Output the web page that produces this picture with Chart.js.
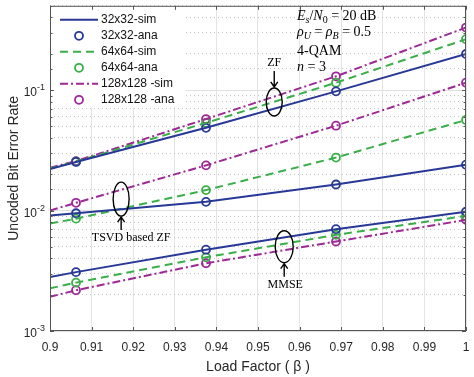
<!DOCTYPE html>
<html>
<head>
<meta charset="utf-8">
<script src="https://cdn.jsdelivr.net/npm/chart.js@4/dist/chart.umd.min.js"></script>
<style>
  body { margin: 0; background: #fff; }
  canvas { display: block; }
</style>
</head>
<body>
<canvas id="berChart" width="474" height="377"></canvas>
<script>
// load factor points (sim curves start at the left edge, markers at 29/32 .. 32/32)
const loadSim = [0.9, 0.90625, 0.9375, 0.96875, 1];
const loadAna = [0.90625, 0.9375, 0.96875, 1];

// ZF
const zf32Sim = [0.0221, 0.0253, 0.0486, 0.0975, 0.199];
const zf64Sim = [0.0223, 0.0255, 0.0534, 0.115, 0.264];
const zf128Sim = [0.0226, 0.0257, 0.0574, 0.130, 0.330];
const zf32Ana = [0.0253, 0.0486, 0.0975, 0.199];
const zf64Ana = [0.0255, 0.0534, 0.115, 0.264];
const zf128Ana = [0.0257, 0.0574, 0.130, 0.330];

// TSVD based ZF
const tsvd32Sim = [0.0091, 0.00949, 0.0118, 0.01644, 0.0240];
const tsvd64Sim = [0.0078, 0.00856, 0.01477, 0.0275, 0.0564];
const tsvd128Sim = [0.0100, 0.01159, 0.0237, 0.0506, 0.115];
const tsvd32Ana = [0.00949, 0.0118, 0.01644, 0.0240];
const tsvd64Ana = [0.00856, 0.01477, 0.0275, 0.0564];
const tsvd128Ana = [0.01159, 0.0237, 0.0506, 0.115];

// MMSE
const mmse32Sim = [0.0028, 0.00308, 0.00473, 0.0070, 0.00977];
const mmse64Sim = [0.00226, 0.00252, 0.00409, 0.00628, 0.00902];
const mmse128Sim = [0.00192, 0.00218, 0.00365, 0.00553, 0.00836];
const mmse32Ana = [0.00308, 0.00473, 0.0070, 0.00977];
const mmse64Ana = [0.00252, 0.00409, 0.00628, 0.00902];
const mmse128Ana = [0.00218, 0.00365, 0.00553, 0.00836];

const xTicks = [0.9, 0.91, 0.92, 0.93, 0.94, 0.95, 0.96, 0.97, 0.98, 0.99, 1];
const yDecades = [-3, -2, -1];

const legendLabels = ['32x32-sim', '32x32-ana', '64x64-sim', '64x64-ana', '128x128 -sim', '128x128 -ana'];

const BLUE = 'rgb(40,56,150)';
const GREEN = 'rgb(58,174,72)';
const PURPLE = 'rgb(158,40,150)';
const DASH = [8, 5];
const DASHDOT = [8, 3, 2, 3];

const SANS = "'Liberation Sans', Arial, Helvetica, sans-serif";
const SERIF = "'Liberation Serif', 'Times New Roman', serif";

function pts(xs, ys) {
  return xs.map((x, i) => ({ x: x, y: ys[i] }));
}

function simSet(label, ys, color, dash) {
  return {
    label: label,
    data: pts(loadSim, ys),
    borderColor: color,
    borderWidth: 2,
    borderDash: dash,
    pointRadius: 0,
    fill: false,
    tension: 0
  };
}

function anaSet(label, ys, color) {
  return {
    label: label,
    data: pts(loadAna, ys),
    showLine: false,
    borderColor: color,
    backgroundColor: 'rgba(0,0,0,0)',
    pointBackgroundColor: 'rgba(0,0,0,0)',
    pointBorderColor: color,
    pointBorderWidth: 1.8,
    pointRadius: 4,
    pointStyle: 'circle'
  };
}

const datasets = [
  simSet(legendLabels[0], zf32Sim, BLUE, []),
  simSet(legendLabels[0], tsvd32Sim, BLUE, []),
  simSet(legendLabels[0], mmse32Sim, BLUE, []),
  simSet(legendLabels[2], zf64Sim, GREEN, DASH),
  simSet(legendLabels[2], tsvd64Sim, GREEN, DASH),
  simSet(legendLabels[2], mmse64Sim, GREEN, DASH),
  simSet(legendLabels[4], zf128Sim, PURPLE, DASHDOT),
  simSet(legendLabels[4], tsvd128Sim, PURPLE, DASHDOT),
  simSet(legendLabels[4], mmse128Sim, PURPLE, DASHDOT),
  anaSet(legendLabels[1], zf32Ana, BLUE),
  anaSet(legendLabels[1], tsvd32Ana, BLUE),
  anaSet(legendLabels[1], mmse32Ana, BLUE),
  anaSet(legendLabels[3], zf64Ana, GREEN),
  anaSet(legendLabels[3], tsvd64Ana, GREEN),
  anaSet(legendLabels[3], mmse64Ana, GREEN),
  anaSet(legendLabels[5], zf128Ana, PURPLE),
  anaSet(legendLabels[5], tsvd128Ana, PURPLE),
  anaSet(legendLabels[5], mmse128Ana, PURPLE)
];

function isDecade(v) {
  const l = Math.log10(v);
  return Math.abs(l - Math.round(l)) < 1e-6;
}

// draws a row of text pieces, some italic / subscript
function drawRuns(ctx, x, y, runs) {
  runs.forEach(r => {
    const size = r.sub ? 10 : 14;
    ctx.font = (r.it ? 'italic ' : '') + size + 'px ' + SERIF;
    ctx.fillText(r.t, x, r.sub ? y + 3 : y);
    x += ctx.measureText(r.t).width;
  });
}

function arrow(ctx, x, yFrom, yTo) {
  const dir = yTo > yFrom ? 1 : -1;
  ctx.beginPath();
  ctx.moveTo(x, yFrom);
  ctx.lineTo(x, yTo);
  ctx.moveTo(x - 3.5, yTo - dir * 5);
  ctx.lineTo(x, yTo);
  ctx.lineTo(x + 3.5, yTo - dir * 5);
  ctx.stroke();
}

const annotations = {
  id: 'annotations',
  afterDatasetsDraw(chart) {
    const ctx = chart.ctx;
    const xs = chart.scales.x;
    const ys = chart.scales.y;
    const area = chart.chartArea;
    ctx.save();

    // ellipses + arrows + labels
    ctx.strokeStyle = '#000';
    ctx.fillStyle = '#000';
    ctx.lineWidth = 1.4;
    const marks = [
      { x: 0.9539, y: 0.0796, rx: 8, ry: 14, text: 'ZF', up: false },
      { x: 0.9171, y: 0.01244, rx: 8, ry: 17, text: 'TSVD based ZF', up: true },
      { x: 0.9563, y: 0.00501, rx: 9, ry: 16, text: 'MMSE', up: true }
    ];
    marks.forEach(m => {
      const cx = xs.getPixelForValue(m.x);
      const cy = ys.getPixelForValue(m.y);
      ctx.beginPath();
      ctx.ellipse(cx, cy, m.rx, m.ry, 0, 0, Math.PI * 2);
      ctx.stroke();
      ctx.font = '12px ' + SERIF;
      ctx.textAlign = 'center';
      ctx.textBaseline = 'middle';
      if (m.up) {
        arrow(ctx, cx, cy + m.ry + 14, cy + m.ry + 1);
        ctx.fillText(m.text, cx + (m.text.length > 5 ? 10 : 1), cy + m.ry + 22);
      } else {
        arrow(ctx, cx, cy - m.ry - 17, cy - m.ry - 1);
        ctx.fillText(m.text, cx, cy - m.ry - 25);
      }
    });

    // legend box
    const lx = area.left + 0.5, ly = area.top + 0.5;
    ctx.fillStyle = '#fff';
    ctx.fillRect(lx, ly, 135, 101);
    const rows = [
      { type: 'line', color: BLUE, dash: [] },
      { type: 'marker', color: BLUE },
      { type: 'line', color: GREEN, dash: DASH },
      { type: 'marker', color: GREEN },
      { type: 'line', color: PURPLE, dash: DASHDOT },
      { type: 'marker', color: PURPLE }
    ];
    ctx.textAlign = 'left';
    ctx.textBaseline = 'middle';
    ctx.font = '12px ' + SANS;
    rows.forEach((r, i) => {
      const y = area.top + 14 + i * 16;
      ctx.strokeStyle = r.color;
      if (r.type === 'line') {
        ctx.lineWidth = 2;
        ctx.setLineDash(r.dash);
        ctx.beginPath();
        ctx.moveTo(area.left + 10, y);
        ctx.lineTo(area.left + 48, y);
        ctx.stroke();
        ctx.setLineDash([]);
      } else {
        ctx.lineWidth = 1.8;
        ctx.beginPath();
        ctx.arc(area.left + 29, y, 4, 0, Math.PI * 2);
        ctx.stroke();
      }
      ctx.fillStyle = '#111';
      ctx.fillText(legendLabels[i], area.left + 51, y);
    });

    // parameter text, top right
    ctx.fillStyle = '#000';
    ctx.textAlign = 'left';
    ctx.textBaseline = 'alphabetic';
    const tx = 297;
    drawRuns(ctx, tx, area.top + 14, [
      { t: 'E', it: true }, { t: 's', it: true, sub: true }, { t: '/' },
      { t: 'N', it: true }, { t: '0', sub: true }, { t: ' = 20 dB' }
    ]);
    drawRuns(ctx, tx, area.top + 30, [
      { t: 'ρ', it: true }, { t: 'U', it: true, sub: true }, { t: ' = ' },
      { t: 'ρ', it: true }, { t: 'B', it: true, sub: true }, { t: ' = 0.5' }
    ]);
    drawRuns(ctx, tx, area.top + 49, [{ t: '4-QAM' }]);
    drawRuns(ctx, tx, area.top + 65, [{ t: 'n', it: true }, { t: ' = 3' }]);

    // frame + inward ticks
    ctx.strokeStyle = '#555';
    ctx.lineWidth = 1;
    ctx.strokeRect(area.left + 0.5, area.top + 0.5, area.right - area.left - 1, area.bottom - area.top - 1);
    ctx.beginPath();
    xTicks.forEach(v => {
      const px = Math.round(xs.getPixelForValue(v)) + 0.5;
      ctx.moveTo(px, area.bottom); ctx.lineTo(px, area.bottom - 4);
      ctx.moveTo(px, area.top); ctx.lineTo(px, area.top + 4);
    });
    ys.ticks.forEach(t => {
      const py = Math.round(ys.getPixelForValue(t.value)) + 0.5;
      const len = isDecade(t.value) ? 4 : 2.5;
      ctx.moveTo(area.left, py); ctx.lineTo(area.left + len, py);
      ctx.moveTo(area.right, py); ctx.lineTo(area.right - len, py);
    });
    ctx.stroke();

    // y tick labels 10^n
    ctx.fillStyle = '#262626';
    yDecades.forEach(k => {
      const py = ys.getPixelForValue(Math.pow(10, k));
      ctx.font = '9px ' + SANS;
      const sup = '-' + Math.abs(k);
      const supW = ctx.measureText(sup).width;
      ctx.font = '12px ' + SANS;
      const baseW = ctx.measureText('10').width;
      const right = area.left - 5;
      ctx.fillText('10', right - supW - baseW, py + 6);
      ctx.font = '9px ' + SANS;
      ctx.fillText(sup, right - supW, py);
    });
    ctx.restore();
  }
};

const config = {
  type: 'line',
  data: { datasets: datasets },
  options: {
    responsive: false,
    animation: false,
    layout: { padding: { top: 3, right: 8, left: 0, bottom: 0 } },
    plugins: {
      legend: { display: false },
      tooltip: { enabled: false }
    },
    scales: {
      x: {
        type: 'linear',
        min: 0.9,
        max: 1,
        afterBuildTicks: s => { s.ticks = xTicks.map(v => ({ value: v })); },
        afterFit: s => { s.height = 46; s.paddingLeft = 0; s.paddingRight = 0; },
        ticks: {
          autoSkip: false,
          maxRotation: 0,
          padding: 9,
          color: '#262626',
          font: { family: SANS, size: 12 },
          callback: v => String(Number(v.toFixed(2)))
        },
        grid: { color: '#e4e4e4', drawTicks: false },
        border: { display: false },
        title: {
          display: true,
          text: 'Load Factor ( β )',
          color: '#262626',
          font: { family: SANS, size: 14 },
          padding: { top: 0, bottom: 1 }
        }
      },
      y: {
        type: 'logarithmic',
        min: 0.001,
        max: 0.5,
        afterFit: s => { s.width = 50; s.paddingTop = 0; s.paddingBottom = 0; },
        ticks: { display: false },
        grid: {
          drawTicks: false,
          color: c => isDecade(c.tick.value) ? '#e0e0e0' : '#c4c4c4'
        },
        border: {
          display: false,
          dash: c => (c.tick && !isDecade(c.tick.value)) ? [1, 3] : []
        },
        title: {
          display: true,
          text: 'Uncoded Bit Error Rate',
          color: '#262626',
          font: { family: SANS, size: 14 },
          padding: { top: 6, bottom: 0 }
        }
      }
    }
  },
  plugins: [annotations]
};

const berChart = new Chart(document.getElementById('berChart'), config);
</script>
</body>
</html>
